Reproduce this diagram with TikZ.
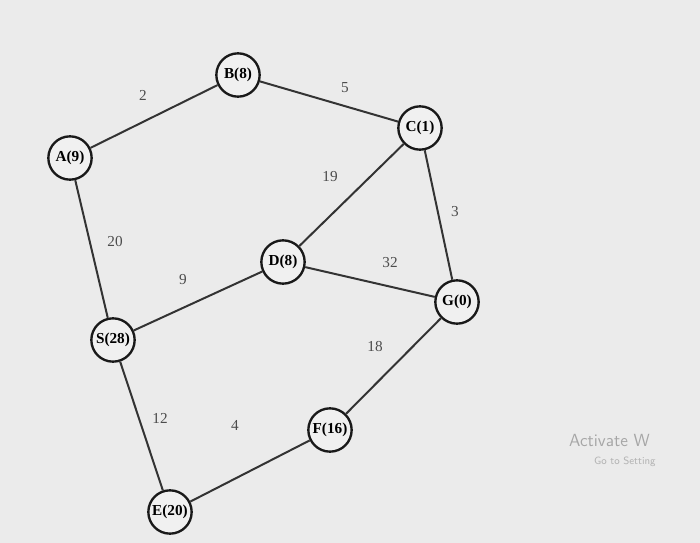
\documentclass[tikz,border=0pt]{standalone}
\usepackage{fontspec}
\setmainfont{Liberation Serif}
\begin{document}
\begin{tikzpicture}[x=0.03cm,y=-0.03cm,
  vtx/.style={circle,draw=black!90,line width=2pt,fill=white!94!black,minimum size=1.3cm,inner sep=0pt,font=\fontsize{13}{14}\selectfont\bfseries},
  edge/.style={draw=black!80,line width=1.7pt},
  wt/.style={font=\fontsize{13}{14}\selectfont,text=black!70}]
\useasboundingbox (0,0) rectangle (700,543);
\fill[black!8] (0,0) rectangle (700,543);
\node[vtx] (A) at (70,158) {A(9)};
\node[vtx] (B) at (238,75) {B(8)};
\node[vtx] (C) at (420,128) {C(1)};
\node[vtx] (D) at (283,262) {D(8)};
\node[vtx] (G) at (457,302) {G(0)};
\node[vtx] (S) at (113,340) {S(28)};
\node[vtx] (F) at (330,430) {F(16)};
\node[vtx] (E) at (170,512) {E(20)};
\draw[edge] (A) -- (B);
\draw[edge] (B) -- (C);
\draw[edge] (C) -- (D);
\draw[edge] (C) -- (G);
\draw[edge] (D) -- (G);
\draw[edge] (A) -- (S);
\draw[edge] (S) -- (D);
\draw[edge] (G) -- (F);
\draw[edge] (S) -- (E);
\draw[edge] (E) -- (F);
\node[wt] (w1) at (143,95) {2};
\node[wt] (w2) at (345,88) {5};
\node[wt] (w3) at (330,177) {19};
\node[wt] (w4) at (455,212) {3};
\node[wt] (w5) at (390,263) {32};
\node[wt] (w6) at (115,242) {20};
\node[wt] (w7) at (183,280) {9};
\node[wt] (w8) at (375,347) {18};
\node[wt] (w9) at (160,418) {12};
\node[wt] (w10) at (235,425) {4};
\node[font=\fontsize{15}{16}\selectfont\sffamily,text=black!35,anchor=west] (act) at (565,440) {Activate W};
\node[font=\fontsize{9}{10}\selectfont\sffamily,text=black!30,anchor=west] (go) at (590,462) {Go to Setting};
\end{tikzpicture}
\end{document}
